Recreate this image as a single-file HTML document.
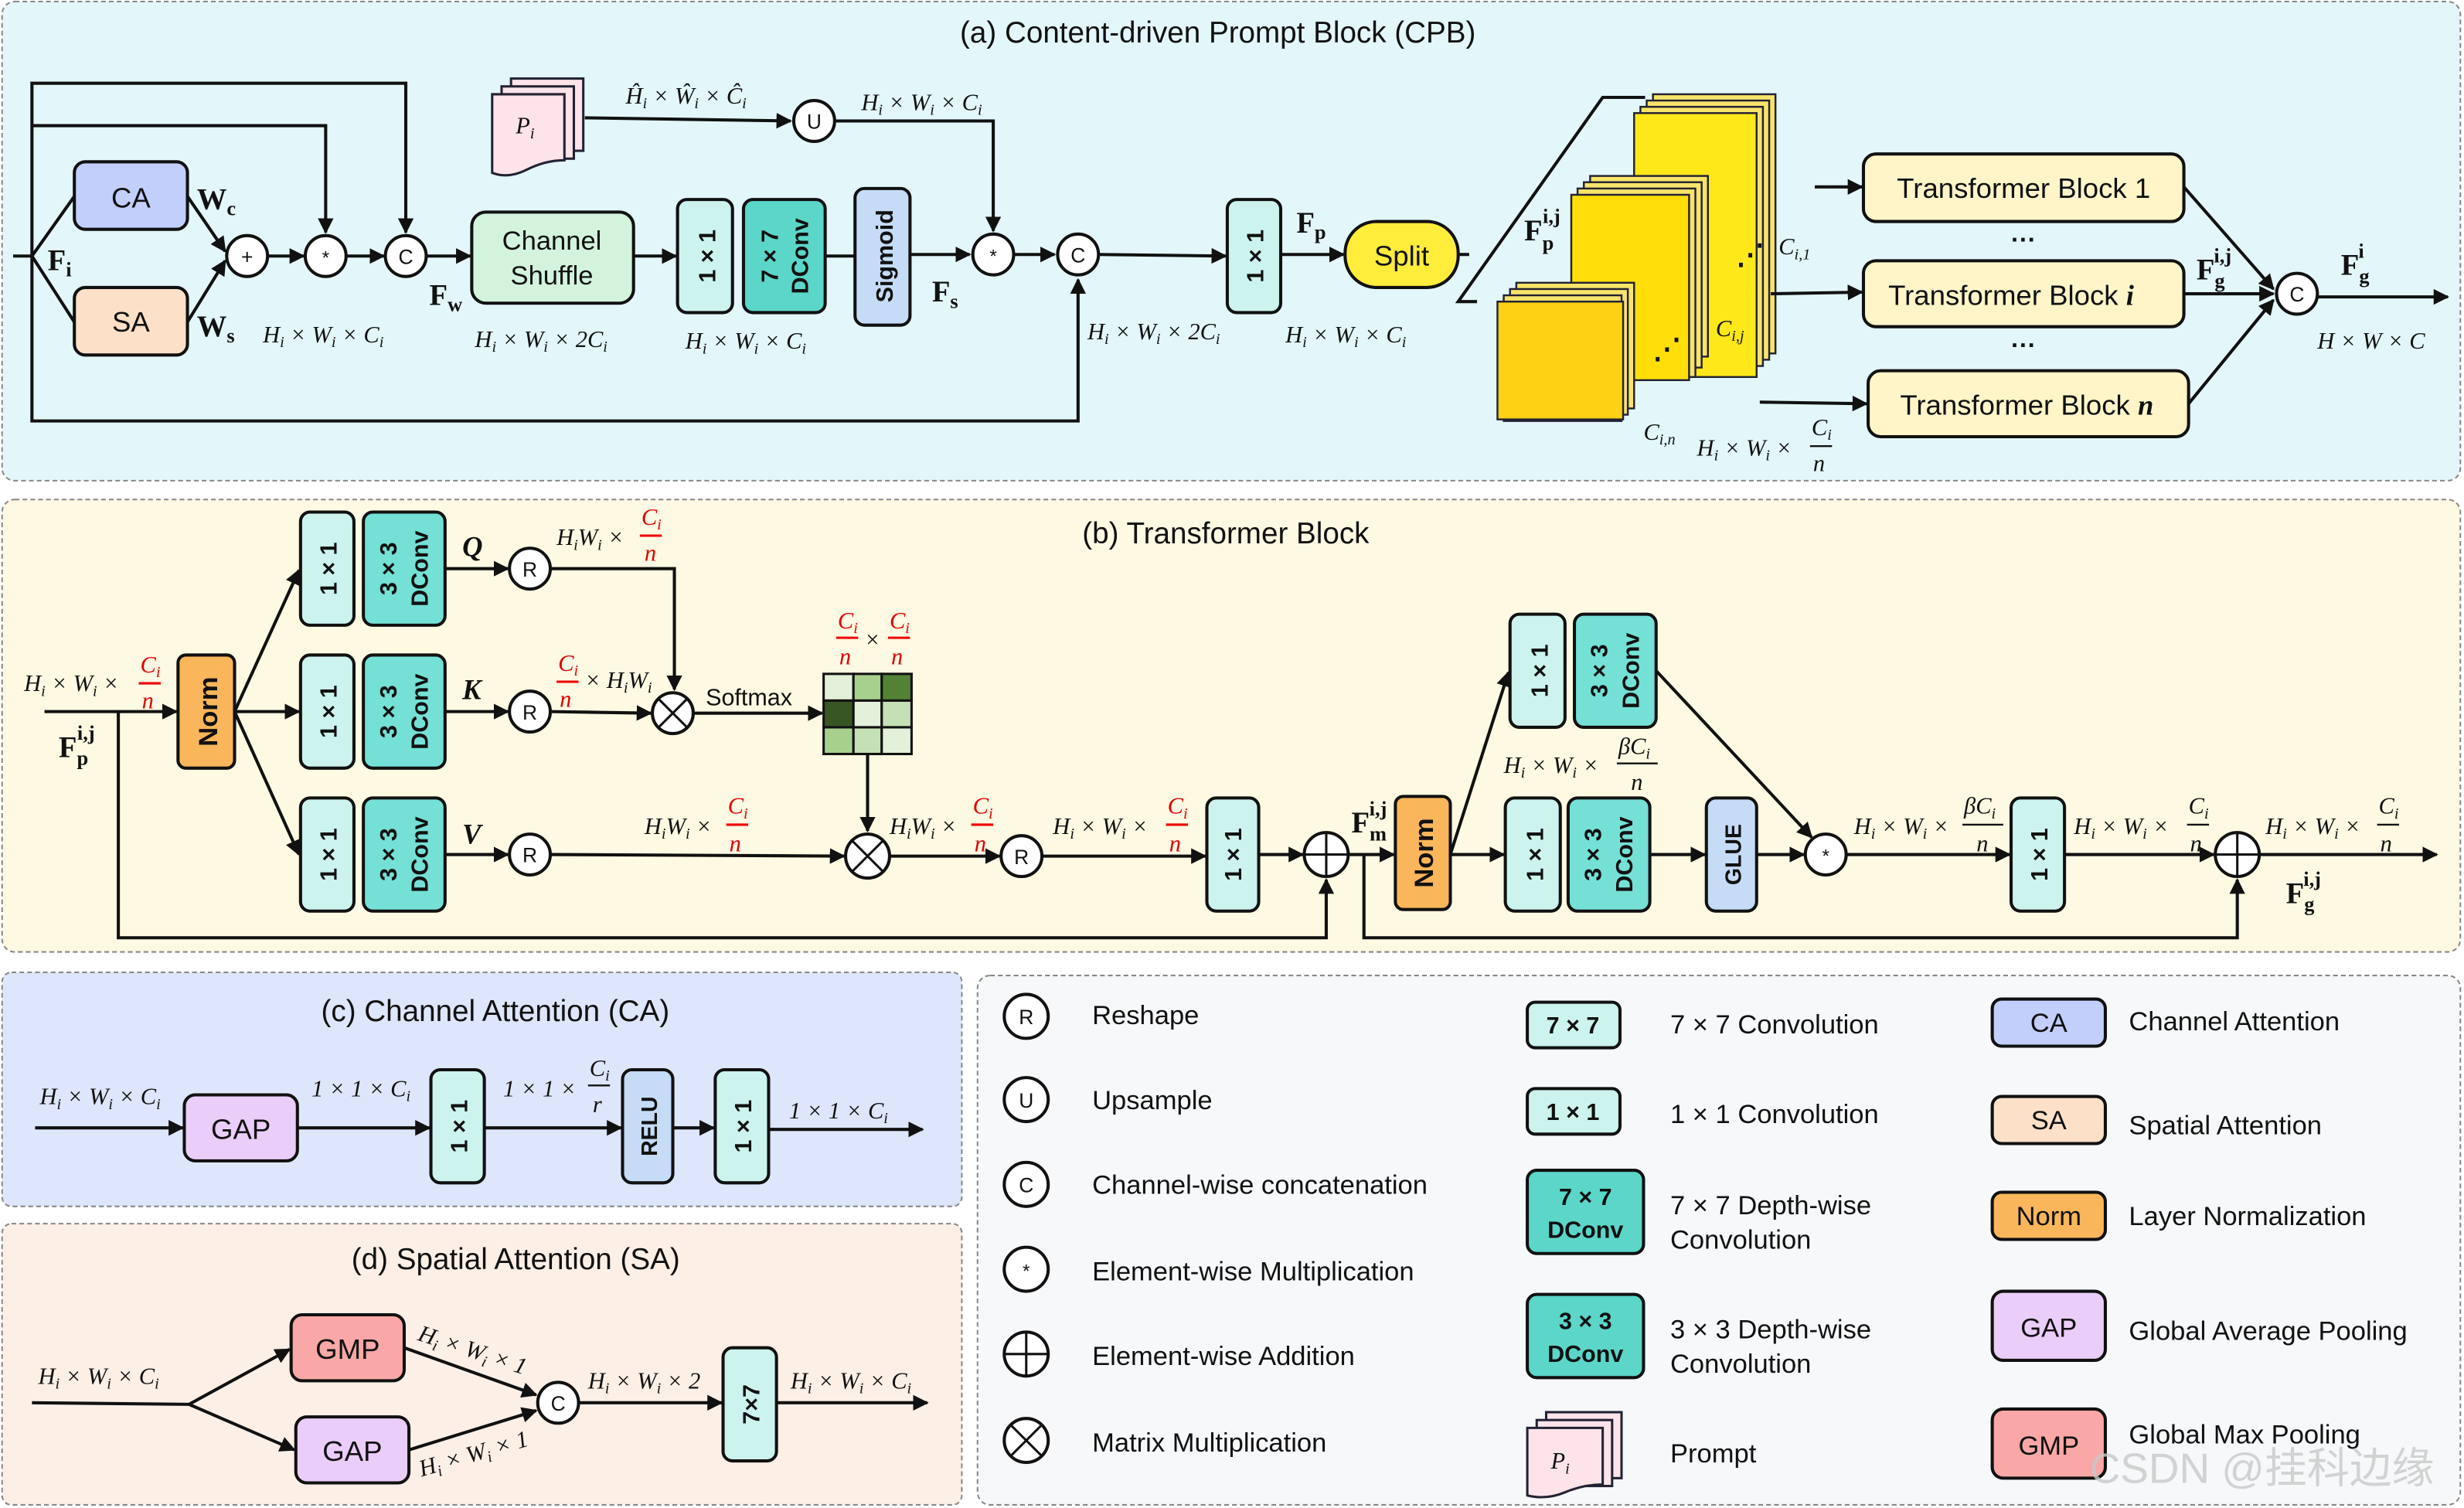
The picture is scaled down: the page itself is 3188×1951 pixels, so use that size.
<!DOCTYPE html>
<html><head><meta charset="utf-8">
<style>
html,body{margin:0;padding:0;background:#fff;}
svg{display:block;}
.t{font-family:"Liberation Sans",sans-serif;fill:#111;}
.m{font-family:"Liberation Serif",serif;font-style:italic;font-size:15px;fill:#111;}
.r{fill:#e00000;}
.b{font-family:"Liberation Serif",serif;font-weight:bold;fill:#111;}
.sb{font-size:10px;}
.ln{stroke:#111;stroke-width:2;fill:none;}
.bx{stroke:#111;stroke-width:2;}
</style></head><body>
<svg width="3188" height="1951" viewBox="0 0 1568 960" xmlns="http://www.w3.org/2000/svg">
<defs>
<marker id="a" viewBox="0 0 10 10" refX="9" refY="5" markerWidth="5" markerHeight="5" orient="auto"><path d="M0,0 L10,5 L0,10 z" fill="#111"/></marker>
</defs>

<rect x="1" y="1" width="1565" height="305" rx="8" fill="#e3f6fa" stroke="#888" stroke-dasharray="3,2"/>
<rect x="1" y="318" width="1565" height="288" rx="8" fill="#fdf9e2" stroke="#888" stroke-dasharray="3,2"/>
<rect x="1" y="619" width="611" height="149" rx="6" fill="#dde6fa" stroke="#888" stroke-dasharray="3,2"/>
<rect x="1" y="779" width="611" height="179" rx="6" fill="#fcefe6" stroke="#888" stroke-dasharray="3,2"/>
<rect x="622" y="621" width="944" height="337" rx="8" fill="#f6f8fa" stroke="#888" stroke-dasharray="3,2"/>

<!-- ============ (a) ============ -->
<text class="t" x="775" y="27" font-size="19" text-anchor="middle">(a) Content-driven Prompt Block (CPB)</text>
<line class="ln" x1="8" y1="163" x2="20" y2="163"/>
<polyline class="ln" points="47,125 20,163 47,205"/>
<polyline class="ln" points="20,163 20,53 258,53 258,148" marker-end="url(#a)"/>
<polyline class="ln" points="20,80 207,80 207,148" marker-end="url(#a)"/>
<polyline class="ln" points="20,163 20,268 686,268 686,178" marker-end="url(#a)"/>
<text class="b" x="30" y="172" font-size="19">F<tspan font-size="13" dy="4">i</tspan></text>
<rect class="bx" x="47" y="103" width="72" height="43" rx="7" fill="#c2cffa"/>
<text class="t" x="83" y="132" font-size="18" text-anchor="middle">CA</text>
<rect class="bx" x="47" y="183" width="72" height="43" rx="7" fill="#fde0c8"/>
<text class="t" x="83" y="211" font-size="18" text-anchor="middle">SA</text>
<text class="b" x="125" y="133" font-size="19">W<tspan font-size="13" dy="4">c</tspan></text>
<text class="b" x="125" y="214" font-size="19">W<tspan font-size="13" dy="4">s</tspan></text>
<line class="ln" x1="119" y1="125" x2="143" y2="160" marker-end="url(#a)"/>
<line class="ln" x1="119" y1="205" x2="143" y2="166" marker-end="url(#a)"/>
<circle class="bx" cx="157" cy="163" r="13" fill="#fff"/><text class="t" x="157" y="168" font-size="13" text-anchor="middle">+</text>
<line class="ln" x1="170" y1="163" x2="193" y2="163" marker-end="url(#a)"/>
<circle class="bx" cx="207" cy="163" r="13" fill="#fff"/><text class="t" x="207" y="168" font-size="12" text-anchor="middle">*</text>
<line class="ln" x1="220" y1="163" x2="244" y2="163" marker-end="url(#a)"/>
<circle class="bx" cx="258" cy="163" r="13" fill="#fff"/><text class="t" x="258" y="168" font-size="13" text-anchor="middle">C</text>
<line class="ln" x1="271" y1="163" x2="299" y2="163" marker-end="url(#a)"/>
<text class="m" x="167" y="218">H<tspan class="sb" dy="3">i</tspan><tspan dy="-3"> × W</tspan><tspan class="sb" dy="3">i</tspan><tspan dy="-3"> × C</tspan><tspan class="sb" dy="3">i</tspan></text>
<text class="b" x="273" y="194" font-size="19">F<tspan font-size="13" dy="4">w</tspan></text>
<rect class="bx" x="300" y="135" width="103" height="58" rx="9" fill="#d3f3dc"/>
<text class="t" x="351" y="159" font-size="17" text-anchor="middle">Channel</text>
<text class="t" x="351" y="181" font-size="17" text-anchor="middle">Shuffle</text>
<text class="m" x="302" y="221">H<tspan class="sb" dy="3">i</tspan><tspan dy="-3"> × W</tspan><tspan class="sb" dy="3">i</tspan><tspan dy="-3"> × 2C</tspan><tspan class="sb" dy="3">i</tspan></text>
<line class="ln" x1="403" y1="163" x2="430" y2="163" marker-end="url(#a)"/>
<rect class="bx" x="431" y="127" width="35" height="72" rx="6" fill="#cdf3ee"/>
<text class="t" transform="translate(455,163) rotate(-90)" font-size="15" font-weight="bold" text-anchor="middle">1 × 1</text>
<rect class="bx" x="473" y="127" width="52" height="72" rx="6" fill="#5bd6c8"/>
<text class="t" transform="translate(495,163) rotate(-90)" font-size="15" font-weight="bold" text-anchor="middle">7 × 7</text>
<text class="t" transform="translate(514,163) rotate(-90)" font-size="15" font-weight="bold" text-anchor="middle">DConv</text>
<line class="ln" x1="525" y1="163" x2="544" y2="163"/>
<text class="m" x="436" y="222">H<tspan class="sb" dy="3">i</tspan><tspan dy="-3"> × W</tspan><tspan class="sb" dy="3">i</tspan><tspan dy="-3"> × C</tspan><tspan class="sb" dy="3">i</tspan></text>
<rect class="bx" x="544" y="120" width="35" height="87" rx="6" fill="#c5dbf6"/>
<text class="t" transform="translate(568,163) rotate(-90)" font-size="15" font-weight="bold" text-anchor="middle">Sigmoid</text>
<line class="ln" x1="579" y1="162" x2="617" y2="162" marker-end="url(#a)"/>
<text class="b" x="593" y="192" font-size="19">F<tspan font-size="13" dy="4">s</tspan></text>
<circle class="bx" cx="632" cy="162" r="13" fill="#fff"/><text class="t" x="632" y="167" font-size="12" text-anchor="middle">*</text>
<line class="ln" x1="645" y1="162" x2="671" y2="162" marker-end="url(#a)"/>
<circle class="bx" cx="686" cy="162" r="13" fill="#fff"/><text class="t" x="686" y="167" font-size="13" text-anchor="middle">C</text>
<line class="ln" x1="699" y1="162" x2="780" y2="163" marker-end="url(#a)"/>
<text class="m" x="692" y="216">H<tspan class="sb" dy="3">i</tspan><tspan dy="-3"> × W</tspan><tspan class="sb" dy="3">i</tspan><tspan dy="-3"> × 2C</tspan><tspan class="sb" dy="3">i</tspan></text>
<g stroke="#223" stroke-width="1.5">
<rect x="325" y="50" width="46" height="46" fill="#fde3ea"/>
<rect x="319" y="55" width="46" height="46" fill="#fde3ea"/>
<path d="M313,60 h46 v42 q-12,0 -24,6 q-12,6 -22,2 z" fill="#fde3ea"/>
</g>
<text class="m" x="328" y="85" font-size="16">P<tspan class="sb" dy="3">i</tspan></text>
<line class="ln" x1="372" y1="75" x2="503" y2="77" marker-end="url(#a)"/>
<text class="m" x="398" y="66">Ĥ<tspan class="sb" dy="3">i</tspan><tspan dy="-3"> × Ŵ</tspan><tspan class="sb" dy="3">i</tspan><tspan dy="-3"> × Ĉ</tspan><tspan class="sb" dy="3">i</tspan></text>
<circle class="bx" cx="518" cy="77" r="13" fill="#fff"/><text class="t" x="518" y="82" font-size="13" text-anchor="middle">U</text>
<polyline class="ln" points="531,77 632,77 632,147" marker-end="url(#a)"/>
<text class="m" x="548" y="70">H<tspan class="sb" dy="3">i</tspan><tspan dy="-3"> × W</tspan><tspan class="sb" dy="3">i</tspan><tspan dy="-3"> × C</tspan><tspan class="sb" dy="3">i</tspan></text>
<rect class="bx" x="781" y="127" width="34" height="72" rx="6" fill="#cdf3ee"/>
<text class="t" transform="translate(804,163) rotate(-90)" font-size="15" font-weight="bold" text-anchor="middle">1 × 1</text>
<text class="m" x="818" y="218">H<tspan class="sb" dy="3">i</tspan><tspan dy="-3"> × W</tspan><tspan class="sb" dy="3">i</tspan><tspan dy="-3"> × C</tspan><tspan class="sb" dy="3">i</tspan></text>
<line class="ln" x1="815" y1="162" x2="855" y2="162" marker-end="url(#a)"/>
<text class="b" x="825" y="148" font-size="19">F<tspan font-size="13" dy="4">p</tspan></text>
<rect class="bx" x="856" y="141" width="72" height="42" rx="20" fill="#ffec3b"/>
<text class="t" x="892" y="169" font-size="18" text-anchor="middle">Split</text>
<polyline class="ln" points="928,162 935,162"/>
<polyline class="ln" points="1047,62 1020,62 928,192 940,192"/>
<text class="b" x="970" y="153" font-size="19">F<tspan font-size="13" dy="6">p</tspan><tspan font-size="13" dx="-7" dy="-17">i,j</tspan></text>
<g stroke="#223" stroke-width="1.2">
<rect x="1052" y="60" width="78" height="165" fill="#f8e46a"/>
<rect x="1048" y="64" width="78" height="165" fill="#f8e46a"/>
<rect x="1044" y="68" width="78" height="165" fill="#f8e46a"/>
<rect x="1040" y="72" width="78" height="168" fill="#ffe81a"/>
<rect x="1012" y="112" width="75" height="115" fill="#f8e46a"/>
<rect x="1008" y="116" width="75" height="118" fill="#f8e46a"/>
<rect x="1004" y="120" width="75" height="120" fill="#f8e46a"/>
<rect x="1000" y="124" width="75" height="118" fill="#ffde0a"/>
<rect x="965" y="180" width="75" height="80" fill="#f8e46a"/>
<rect x="961" y="184" width="75" height="80" fill="#f8e46a"/>
<rect x="957" y="188" width="75" height="80" fill="#f8e46a"/>
<rect x="953" y="192" width="80" height="75" fill="#fdd214"/>
</g>
<text class="t" x="1105" y="168" font-size="18" font-weight="bold">⋰</text>
<text class="t" x="1052" y="228" font-size="18" font-weight="bold">⋰</text>
<text class="m" x="1132" y="162">C<tspan class="sb" dy="3">i,1</tspan></text>
<text class="m" x="1092" y="214">C<tspan class="sb" dy="3">i,j</tspan></text>
<text class="m" x="1046" y="280">C<tspan class="sb" dy="3">i,n</tspan></text>
<text class="m" x="1080" y="290">H<tspan class="sb" dy="3">i</tspan><tspan dy="-3"> × W</tspan><tspan class="sb" dy="3">i</tspan><tspan dy="-3"> ×</tspan></text>
<text class="m" x="1153" y="277">C<tspan class="sb" dy="3">i</tspan></text>
<line x1="1152" y1="284" x2="1166" y2="284" stroke="#111" stroke-width="1.2"/>
<text class="m" x="1154" y="300">n</text>
<line class="ln" x1="1155" y1="119" x2="1185" y2="119" marker-end="url(#a)"/>
<line class="ln" x1="1127" y1="187" x2="1185" y2="186" marker-end="url(#a)"/>
<line class="ln" x1="1120" y1="256" x2="1188" y2="257" marker-end="url(#a)"/>
<rect class="bx" x="1186" y="98" width="204" height="43" rx="8" fill="#fff5c9"/>
<text class="t" x="1288" y="126" font-size="18" text-anchor="middle">Transformer Block 1</text>
<text class="t" x="1288" y="158" font-size="16" text-anchor="middle" font-weight="bold">···</text>
<rect class="bx" x="1186" y="166" width="204" height="42" rx="8" fill="#fff5c9"/>
<text class="t" x="1280" y="194" font-size="18" text-anchor="middle">Transformer Block <tspan font-family="Liberation Serif" font-style="italic" font-weight="bold">i</tspan></text>
<text class="t" x="1288" y="225" font-size="16" text-anchor="middle" font-weight="bold">···</text>
<rect class="bx" x="1189" y="236" width="204" height="42" rx="8" fill="#fff5c9"/>
<text class="t" x="1290" y="264" font-size="18" text-anchor="middle">Transformer Block <tspan font-family="Liberation Serif" font-style="italic" font-weight="bold">n</tspan></text>
<line class="ln" x1="1390" y1="119" x2="1447" y2="184" marker-end="url(#a)"/>
<line class="ln" x1="1390" y1="187" x2="1447" y2="187" marker-end="url(#a)"/>
<line class="ln" x1="1393" y1="257" x2="1447" y2="191" marker-end="url(#a)"/>
<text class="b" x="1398" y="178" font-size="19">F<tspan font-size="13" dy="5">g</tspan><tspan font-size="13" dx="-7" dy="-16">i,j</tspan></text>
<circle class="bx" cx="1462" cy="187" r="13" fill="#fff"/><text class="t" x="1462" y="192" font-size="13" text-anchor="middle">C</text>
<line class="ln" x1="1475" y1="189" x2="1558" y2="189" marker-end="url(#a)"/>
<text class="b" x="1490" y="175" font-size="19">F<tspan font-size="13" dy="5">g</tspan><tspan font-size="13" dx="-7" dy="-16">i</tspan></text>
<text class="m" x="1475" y="222">H × W × C</text>

<!-- ============ (b) ============ -->
<text class="t" x="780" y="346" font-size="19" text-anchor="middle">(b) Transformer Block</text>
<line class="ln" x1="28" y1="453" x2="112" y2="453" marker-end="url(#a)"/>
<text class="m" x="15" y="440">H<tspan class="sb" dy="3">i</tspan><tspan dy="-3"> × W</tspan><tspan class="sb" dy="3">i</tspan><tspan dy="-3"> ×</tspan></text>
<text class="m r" x="89" y="428">C<tspan class="sb" dy="3">i</tspan></text><line x1="88" y1="435" x2="102" y2="435" stroke="#e00" stroke-width="1.5"/><text class="m r" x="90" y="451">n</text>
<text class="b" x="37" y="482" font-size="19">F<tspan font-size="13" dy="5">p</tspan><tspan font-size="13" dx="-7" dy="-16">i,j</tspan></text>
<polyline class="ln" points="75,453 75,597 844,597 844,560" marker-end="url(#a)"/>
<rect class="bx" x="113" y="417" width="36" height="72" rx="5" fill="#f9b65a"/>
<text class="t" transform="translate(138,453) rotate(-90)" font-size="17" font-weight="bold" text-anchor="middle">Norm</text>
<line class="ln" x1="149" y1="453" x2="190" y2="363" marker-end="url(#a)"/>
<line class="ln" x1="149" y1="453" x2="190" y2="453" marker-end="url(#a)"/>
<line class="ln" x1="149" y1="453" x2="190" y2="544" marker-end="url(#a)"/>
<g>
<rect class="bx" x="191" y="326" width="34" height="72" rx="6" fill="#cdf3ee"/>
<rect class="bx" x="231" y="326" width="52" height="72" rx="6" fill="#75e0d5"/>
<rect class="bx" x="191" y="417" width="34" height="72" rx="6" fill="#cdf3ee"/>
<rect class="bx" x="231" y="417" width="52" height="72" rx="6" fill="#75e0d5"/>
<rect class="bx" x="191" y="508" width="34" height="72" rx="6" fill="#cdf3ee"/>
<rect class="bx" x="231" y="508" width="52" height="72" rx="6" fill="#75e0d5"/>
</g>
<g font-size="15" font-weight="bold" text-anchor="middle" class="t">
<text transform="translate(214,362) rotate(-90)">1 × 1</text>
<text transform="translate(252,362) rotate(-90)">3 × 3</text>
<text transform="translate(272,362) rotate(-90)">DConv</text>
<text transform="translate(214,453) rotate(-90)">1 × 1</text>
<text transform="translate(252,453) rotate(-90)">3 × 3</text>
<text transform="translate(272,453) rotate(-90)">DConv</text>
<text transform="translate(214,544) rotate(-90)">1 × 1</text>
<text transform="translate(252,544) rotate(-90)">3 × 3</text>
<text transform="translate(272,544) rotate(-90)">DConv</text>
</g>
<line class="ln" x1="283" y1="362" x2="323" y2="362" marker-end="url(#a)"/>
<line class="ln" x1="283" y1="453" x2="323" y2="453" marker-end="url(#a)"/>
<line class="ln" x1="283" y1="544" x2="323" y2="544" marker-end="url(#a)"/>
<text class="b" x="294" y="354" font-size="18" font-style="italic">Q</text>
<text class="b" x="294" y="445" font-size="18" font-style="italic">K</text>
<text class="b" x="294" y="537" font-size="18" font-style="italic">V</text>
<circle class="bx" cx="337" cy="362" r="13" fill="#fff"/><text class="t" x="337" y="367" font-size="13" text-anchor="middle">R</text>
<circle class="bx" cx="337" cy="453" r="13" fill="#fff"/><text class="t" x="337" y="458" font-size="13" text-anchor="middle">R</text>
<circle class="bx" cx="337" cy="544" r="13" fill="#fff"/><text class="t" x="337" y="549" font-size="13" text-anchor="middle">R</text>
<polyline class="ln" points="350,362 429,362 429,439" marker-end="url(#a)"/>
<line class="ln" x1="350" y1="453" x2="414" y2="454" marker-end="url(#a)"/>
<text class="m" x="354" y="347">H<tspan class="sb" dy="3">i</tspan><tspan dy="-3">W</tspan><tspan class="sb" dy="3">i</tspan><tspan dy="-3"> ×</tspan></text>
<text class="m r" x="408" y="334">C<tspan class="sb" dy="3">i</tspan></text><line x1="407" y1="341" x2="421" y2="341" stroke="#e00" stroke-width="1.5"/><text class="m r" x="410" y="357">n</text>
<text class="m r" x="355" y="427">C<tspan class="sb" dy="3">i</tspan></text><line x1="354" y1="434" x2="368" y2="434" stroke="#e00" stroke-width="1.5"/><text class="m r" x="356" y="450">n</text>
<text class="m" x="372" y="438">× H<tspan class="sb" dy="3">i</tspan><tspan dy="-3">W</tspan><tspan class="sb" dy="3">i</tspan></text>
<circle class="bx" cx="428" cy="454" r="13" fill="#fff"/>
<path d="M419,445 L437,463 M437,445 L419,463" stroke="#111" stroke-width="1.5"/>
<line class="ln" x1="441" y1="454" x2="523" y2="454" marker-end="url(#a)"/>
<text class="t" x="449" y="449" font-size="15">Softmax</text>
<text class="m r" x="533" y="400">C<tspan class="sb" dy="3">i</tspan></text><line x1="532" y1="406" x2="546" y2="406" stroke="#e00" stroke-width="1.5"/><text class="m r" x="534" y="423">n</text>
<text class="m" x="550" y="412">×</text>
<text class="m r" x="566" y="400">C<tspan class="sb" dy="3">i</tspan></text><line x1="565" y1="406" x2="579" y2="406" stroke="#e00" stroke-width="1.5"/><text class="m r" x="567" y="423">n</text>
<g stroke="#111" stroke-width="1.5">
<rect x="524" y="429" width="19" height="17" fill="#e3f0da"/><rect x="543" y="429" width="18" height="17" fill="#a8d08d"/><rect x="561" y="429" width="19" height="17" fill="#548235"/>
<rect x="524" y="446" width="19" height="17" fill="#375623"/><rect x="543" y="446" width="18" height="17" fill="#e3f0da"/><rect x="561" y="446" width="19" height="17" fill="#c5e0b4"/>
<rect x="524" y="463" width="19" height="17" fill="#a8d08d"/><rect x="543" y="463" width="18" height="17" fill="#c5e0b4"/><rect x="561" y="463" width="19" height="17" fill="#e3f0da"/>
</g>
<line class="ln" x1="552" y1="480" x2="552" y2="529" stroke-width="1.5" marker-end="url(#a)"/>
<line class="ln" x1="350" y1="544" x2="537" y2="545" marker-end="url(#a)"/>
<text class="m" x="410" y="531">H<tspan class="sb" dy="3">i</tspan><tspan dy="-3">W</tspan><tspan class="sb" dy="3">i</tspan><tspan dy="-3"> ×</tspan></text>
<text class="m r" x="463" y="518">C<tspan class="sb" dy="3">i</tspan></text><line x1="462" y1="525" x2="476" y2="525" stroke="#e00" stroke-width="1.5"/><text class="m r" x="464" y="542">n</text>
<circle class="bx" cx="552" cy="545" r="14" fill="#fff"/>
<path d="M542,535 L562,555 M562,535 L542,555" stroke="#111" stroke-width="1.5"/>
<line class="ln" x1="566" y1="545" x2="636" y2="545" marker-end="url(#a)"/>
<text class="m" x="566" y="531">H<tspan class="sb" dy="3">i</tspan><tspan dy="-3">W</tspan><tspan class="sb" dy="3">i</tspan><tspan dy="-3"> ×</tspan></text>
<text class="m r" x="619" y="518">C<tspan class="sb" dy="3">i</tspan></text><line x1="618" y1="525" x2="632" y2="525" stroke="#e00" stroke-width="1.5"/><text class="m r" x="620" y="542">n</text>
<circle class="bx" cx="650" cy="545" r="13" fill="#fff"/><text class="t" x="650" y="550" font-size="13" text-anchor="middle">R</text>
<line class="ln" x1="663" y1="545" x2="767" y2="545" marker-end="url(#a)"/>
<text class="m" x="670" y="531">H<tspan class="sb" dy="3">i</tspan><tspan dy="-3"> × W</tspan><tspan class="sb" dy="3">i</tspan><tspan dy="-3"> ×</tspan></text>
<text class="m r" x="743" y="518">C<tspan class="sb" dy="3">i</tspan></text><line x1="742" y1="525" x2="756" y2="525" stroke="#e00" stroke-width="1.5"/><text class="m r" x="744" y="542">n</text>
<rect class="bx" x="768" y="508" width="33" height="72" rx="6" fill="#cdf3ee"/>
<text class="t" transform="translate(790,544) rotate(-90)" font-size="15" font-weight="bold" text-anchor="middle">1 × 1</text>
<line class="ln" x1="801" y1="544" x2="829" y2="544" marker-end="url(#a)"/>
<circle class="bx" cx="844" cy="544" r="14" fill="#fff"/>
<path d="M844,530 V558 M830,544 H858" stroke="#111" stroke-width="1.5"/>
<line class="ln" x1="858" y1="544" x2="887" y2="544" marker-end="url(#a)"/>
<text class="b" x="860" y="530" font-size="19">F<tspan font-size="13" dy="5">m</tspan><tspan font-size="13" dx="-11" dy="-16">i,j</tspan></text>
<polyline class="ln" points="868,544 868,597 1424,597 1424,560" marker-end="url(#a)"/>
<rect class="bx" x="888" y="507" width="35" height="72" rx="5" fill="#f9b65a"/>
<text class="t" transform="translate(912,543) rotate(-90)" font-size="17" font-weight="bold" text-anchor="middle">Norm</text>
<line class="ln" x1="923" y1="544" x2="960" y2="428" marker-end="url(#a)"/>
<line class="ln" x1="923" y1="544" x2="957" y2="544" marker-end="url(#a)"/>
<rect class="bx" x="961" y="391" width="35" height="72" rx="6" fill="#cdf3ee"/>
<rect class="bx" x="1002" y="391" width="52" height="72" rx="6" fill="#75e0d5"/>
<rect class="bx" x="958" y="508" width="35" height="72" rx="6" fill="#cdf3ee"/>
<rect class="bx" x="998" y="508" width="52" height="72" rx="6" fill="#75e0d5"/>
<g font-size="15" font-weight="bold" text-anchor="middle" class="t">
<text transform="translate(985,427) rotate(-90)">1 × 1</text>
<text transform="translate(1023,427) rotate(-90)">3 × 3</text>
<text transform="translate(1043,427) rotate(-90)">DConv</text>
<text transform="translate(982,544) rotate(-90)">1 × 1</text>
<text transform="translate(1019,544) rotate(-90)">3 × 3</text>
<text transform="translate(1039,544) rotate(-90)">DConv</text>
</g>
<text class="m" x="957" y="492">H<tspan class="sb" dy="3">i</tspan><tspan dy="-3"> × W</tspan><tspan class="sb" dy="3">i</tspan><tspan dy="-3"> ×</tspan></text>
<text class="m" x="1030" y="480">βC<tspan class="sb" dy="3">i</tspan></text><line x1="1029" y1="486" x2="1055" y2="486" stroke="#111" stroke-width="1.2"/><text class="m" x="1038" y="503">n</text>
<line class="ln" x1="1050" y1="544" x2="1085" y2="544" marker-end="url(#a)"/>
<rect class="bx" x="1086" y="508" width="32" height="72" rx="6" fill="#c5dbf6"/>
<text class="t" transform="translate(1108,544) rotate(-90)" font-size="14" font-weight="bold" text-anchor="middle">GLUE</text>
<line class="ln" x1="1118" y1="544" x2="1148" y2="544" marker-end="url(#a)"/>
<line class="ln" x1="1054" y1="427" x2="1153" y2="533" stroke-width="1.5" marker-end="url(#a)"/>
<circle class="bx" cx="1162" cy="544" r="13" fill="#fff"/><text class="t" x="1162" y="549" font-size="12" text-anchor="middle">*</text>
<line class="ln" x1="1175" y1="544" x2="1279" y2="544" marker-end="url(#a)"/>
<text class="m" x="1180" y="531">H<tspan class="sb" dy="3">i</tspan><tspan dy="-3"> × W</tspan><tspan class="sb" dy="3">i</tspan><tspan dy="-3"> ×</tspan></text>
<text class="m" x="1250" y="518">βC<tspan class="sb" dy="3">i</tspan></text><line x1="1249" y1="525" x2="1275" y2="525" stroke="#111" stroke-width="1.2"/><text class="m" x="1258" y="542">n</text>
<rect class="bx" x="1280" y="508" width="34" height="72" rx="6" fill="#cdf3ee"/>
<text class="t" transform="translate(1303,544) rotate(-90)" font-size="15" font-weight="bold" text-anchor="middle">1 × 1</text>
<line class="ln" x1="1314" y1="544" x2="1409" y2="544" marker-end="url(#a)"/>
<text class="m" x="1320" y="531">H<tspan class="sb" dy="3">i</tspan><tspan dy="-3"> × W</tspan><tspan class="sb" dy="3">i</tspan><tspan dy="-3"> ×</tspan></text>
<text class="m" x="1393" y="518">C<tspan class="sb" dy="3">i</tspan></text><line x1="1392" y1="525" x2="1406" y2="525" stroke="#111" stroke-width="1.2"/><text class="m" x="1394" y="542">n</text>
<circle class="bx" cx="1424" cy="544" r="14" fill="#fff"/>
<path d="M1424,530 V558 M1410,544 H1438" stroke="#111" stroke-width="1.5"/>
<line class="ln" x1="1438" y1="544" x2="1551" y2="544" marker-end="url(#a)"/>
<text class="m" x="1442" y="531">H<tspan class="sb" dy="3">i</tspan><tspan dy="-3"> × W</tspan><tspan class="sb" dy="3">i</tspan><tspan dy="-3"> ×</tspan></text>
<text class="m" x="1514" y="518">C<tspan class="sb" dy="3">i</tspan></text><line x1="1513" y1="525" x2="1527" y2="525" stroke="#111" stroke-width="1.2"/><text class="m" x="1515" y="542">n</text>
<text class="b" x="1455" y="575" font-size="19">F<tspan font-size="13" dy="5">g</tspan><tspan font-size="13" dx="-7" dy="-16">i,j</tspan></text>

<!-- ============ (c) ============ -->
<text class="t" x="315" y="650" font-size="19" text-anchor="middle">(c) Channel Attention (CA)</text>
<line class="ln" x1="22" y1="718" x2="116" y2="718" marker-end="url(#a)"/>
<text class="m" x="25" y="703">H<tspan class="sb" dy="3">i</tspan><tspan dy="-3"> × W</tspan><tspan class="sb" dy="3">i</tspan><tspan dy="-3"> × C</tspan><tspan class="sb" dy="3">i</tspan></text>
<rect class="bx" x="117" y="697" width="72" height="42" rx="7" fill="#ebcdf9"/>
<text class="t" x="153" y="725" font-size="18" text-anchor="middle">GAP</text>
<line class="ln" x1="189" y1="718" x2="273" y2="718" marker-end="url(#a)"/>
<text class="m" x="198" y="698">1 × 1 × C<tspan class="sb" dy="3">i</tspan></text>
<rect class="bx" x="274" y="681" width="34" height="72" rx="6" fill="#cdf3ee"/>
<text class="t" transform="translate(297,717) rotate(-90)" font-size="15" font-weight="bold" text-anchor="middle">1 × 1</text>
<line class="ln" x1="308" y1="718" x2="395" y2="718" marker-end="url(#a)"/>
<text class="m" x="320" y="698">1 × 1 ×</text>
<text class="m" x="375" y="685">C<tspan class="sb" dy="3">i</tspan></text><line x1="374" y1="691" x2="388" y2="691" stroke="#111" stroke-width="1.2"/><text class="m" x="377" y="708">r</text>
<rect class="bx" x="396" y="681" width="32" height="72" rx="6" fill="#c5dbf6"/>
<text class="t" transform="translate(418,717) rotate(-90)" font-size="14" font-weight="bold" text-anchor="middle">RELU</text>
<line class="ln" x1="428" y1="718" x2="454" y2="718" marker-end="url(#a)"/>
<rect class="bx" x="455" y="681" width="34" height="72" rx="6" fill="#cdf3ee"/>
<text class="t" transform="translate(478,717) rotate(-90)" font-size="15" font-weight="bold" text-anchor="middle">1 × 1</text>
<line class="ln" x1="489" y1="719" x2="587" y2="719" marker-end="url(#a)"/>
<text class="m" x="502" y="712">1 × 1 × C<tspan class="sb" dy="3">i</tspan></text>

<!-- ============ (d) ============ -->
<text class="t" x="328" y="808" font-size="19" text-anchor="middle">(d) Spatial Attention (SA)</text>
<text class="m" x="24" y="881">H<tspan class="sb" dy="3">i</tspan><tspan dy="-3"> × W</tspan><tspan class="sb" dy="3">i</tspan><tspan dy="-3"> × C</tspan><tspan class="sb" dy="3">i</tspan></text>
<polyline class="ln" points="20,893 120,894"/>
<line class="ln" x1="120" y1="894" x2="184" y2="859" marker-end="url(#a)"/>
<line class="ln" x1="120" y1="894" x2="187" y2="923" marker-end="url(#a)"/>
<rect class="bx" x="185" y="837" width="72" height="42" rx="7" fill="#f9a7a7"/>
<text class="t" x="221" y="865" font-size="18" text-anchor="middle">GMP</text>
<rect class="bx" x="188" y="902" width="72" height="42" rx="7" fill="#ebcdf9"/>
<text class="t" x="224" y="930" font-size="18" text-anchor="middle">GAP</text>
<line class="ln" x1="257" y1="858" x2="341" y2="888" marker-end="url(#a)"/>
<line class="ln" x1="260" y1="923" x2="341" y2="898" marker-end="url(#a)"/>
<text class="m" transform="translate(265,853) rotate(18)">H<tspan class="sb" dy="3">i</tspan><tspan dy="-3"> × W</tspan><tspan class="sb" dy="3">i</tspan><tspan dy="-3"> × 1</tspan></text>
<text class="m" transform="translate(268,940) rotate(-16)">H<tspan class="sb" dy="3">i</tspan><tspan dy="-3"> × W</tspan><tspan class="sb" dy="3">i</tspan><tspan dy="-3"> × 1</tspan></text>
<circle class="bx" cx="355" cy="893" r="13" fill="#fff"/><text class="t" x="355" y="898" font-size="13" text-anchor="middle">C</text>
<line class="ln" x1="368" y1="893" x2="459" y2="893" marker-end="url(#a)"/>
<text class="m" x="374" y="884">H<tspan class="sb" dy="3">i</tspan><tspan dy="-3"> × W</tspan><tspan class="sb" dy="3">i</tspan><tspan dy="-3"> × 2</tspan></text>
<rect class="bx" x="460" y="858" width="34" height="72" rx="6" fill="#cdf3ee"/>
<text class="t" transform="translate(483,894) rotate(-90)" font-size="15" font-weight="bold" text-anchor="middle">7×7</text>
<line class="ln" x1="494" y1="893" x2="590" y2="893" marker-end="url(#a)"/>
<text class="m" x="503" y="884">H<tspan class="sb" dy="3">i</tspan><tspan dy="-3"> × W</tspan><tspan class="sb" dy="3">i</tspan><tspan dy="-3"> × C</tspan><tspan class="sb" dy="3">i</tspan></text>

<!-- ============ legend ============ -->
<g class="t" font-size="17">
<circle class="bx" cx="653" cy="647" r="14" fill="#fff" stroke-width="1.5"/><text x="653" y="652" font-size="13" text-anchor="middle">R</text>
<text x="695" y="652">Reshape</text>
<circle class="bx" cx="653" cy="700" r="14" fill="#fff" stroke-width="1.5"/><text x="653" y="705" font-size="13" text-anchor="middle">U</text>
<text x="695" y="706">Upsample</text>
<circle class="bx" cx="653" cy="754" r="14" fill="#fff" stroke-width="1.5"/><text x="653" y="759" font-size="13" text-anchor="middle">C</text>
<text x="695" y="760">Channel-wise concatenation</text>
<circle class="bx" cx="653" cy="808" r="14" fill="#fff" stroke-width="1.5"/><text x="653" y="813" font-size="12" text-anchor="middle">*</text>
<text x="695" y="815">Element-wise Multiplication</text>
<circle class="bx" cx="653" cy="862" r="14" fill="#fff" stroke-width="1.5"/><path d="M653,848 V876 M639,862 H667" stroke="#111" stroke-width="1.5"/>
<text x="695" y="869">Element-wise Addition</text>
<circle class="bx" cx="653" cy="917" r="14" fill="#fff" stroke-width="1.5"/><path d="M643,907 L663,927 M663,907 L643,927" stroke="#111" stroke-width="1.5"/>
<text x="695" y="924">Matrix Multiplication</text>

<rect class="bx" x="972" y="638" width="59" height="29" rx="5" fill="#cdf3ee" stroke-width="1.5"/><text x="1001" y="658" font-size="15" font-weight="bold" text-anchor="middle">7 × 7</text>
<text x="1063" y="658">7 × 7 Convolution</text>
<rect class="bx" x="972" y="693" width="59" height="29" rx="5" fill="#cdf3ee" stroke-width="1.5"/><text x="1001" y="713" font-size="15" font-weight="bold" text-anchor="middle">1 × 1</text>
<text x="1063" y="715">1 × 1 Convolution</text>
<rect class="bx" x="972" y="745" width="74" height="53" rx="6" fill="#5bd6c8" stroke-width="1.5"/><text x="1009" y="767" font-size="15" font-weight="bold" text-anchor="middle">7 × 7</text><text x="1009" y="788" font-size="15" font-weight="bold" text-anchor="middle">DConv</text>
<text x="1063" y="773">7 × 7  Depth-wise</text><text x="1063" y="795">Convolution</text>
<rect class="bx" x="972" y="824" width="74" height="53" rx="6" fill="#5bd6c8" stroke-width="1.5"/><text x="1009" y="846" font-size="15" font-weight="bold" text-anchor="middle">3 × 3</text><text x="1009" y="867" font-size="15" font-weight="bold" text-anchor="middle">DConv</text>
<text x="1063" y="852">3 × 3  Depth-wise</text><text x="1063" y="874">Convolution</text>
<g stroke="#223" stroke-width="1.5">
<rect x="984" y="899" width="48" height="42" fill="#fde3ea"/>
<rect x="978" y="904" width="48" height="42" fill="#fde3ea"/>
<path d="M972,909 h48 v36 q-12,0 -24,5 q-12,5 -24,2 z" fill="#fde3ea"/>
</g>
<text class="m" x="987" y="935" font-size="16">P<tspan class="sb" dy="3">i</tspan></text>
<text x="1063" y="931">Prompt</text>

<rect class="bx" x="1268" y="636" width="72" height="30" rx="6" fill="#c2cffa" stroke-width="1.5"/><text x="1304" y="657" text-anchor="middle">CA</text>
<text x="1355" y="656">Channel Attention</text>
<rect class="bx" x="1268" y="698" width="72" height="30" rx="6" fill="#fde0c8" stroke-width="1.5"/><text x="1304" y="719" text-anchor="middle">SA</text>
<text x="1355" y="722">Spatial Attention</text>
<rect class="bx" x="1268" y="759" width="72" height="30" rx="6" fill="#f9b65a" stroke-width="1.5"/><text x="1304" y="780" text-anchor="middle">Norm</text>
<text x="1355" y="780">Layer Normalization</text>
<rect class="bx" x="1268" y="822" width="72" height="44" rx="7" fill="#ebcdf9" stroke-width="1.5"/><text x="1304" y="851" text-anchor="middle">GAP</text>
<text x="1355" y="853">Global Average Pooling</text>
<rect class="bx" x="1268" y="897" width="72" height="44" rx="7" fill="#f9a7a7" stroke-width="1.5"/><text x="1304" y="926" text-anchor="middle">GMP</text>
<text x="1355" y="919">Global Max Pooling</text>
</g>
<text x="1330" y="944" font-family="Liberation Sans, 'Noto Sans CJK SC', sans-serif" font-size="27" fill="#c8c8c8" fill-opacity="0.8">CSDN @挂科边缘</text>
</svg>
</body></html>
